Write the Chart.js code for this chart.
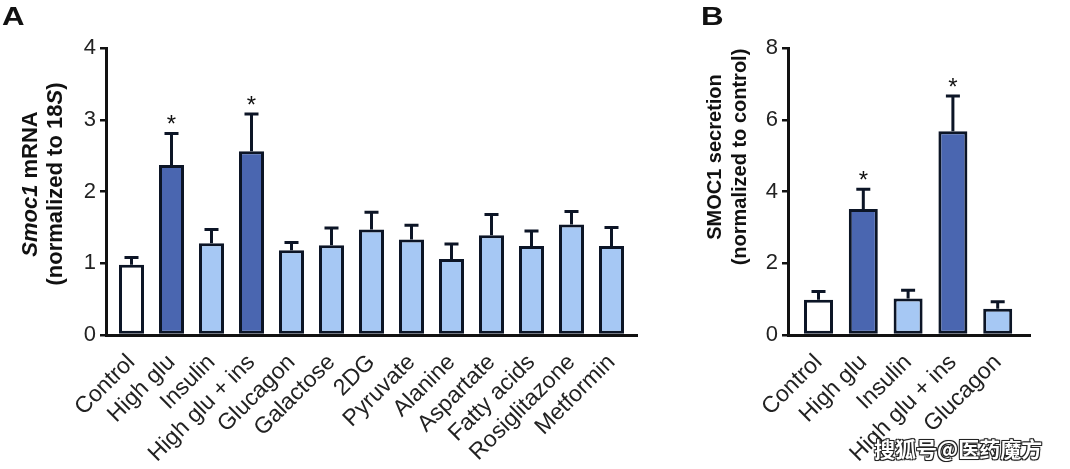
<!DOCTYPE html>
<html>
<head>
<meta charset="utf-8">
<script src="https://cdn.jsdelivr.net/npm/chart.js@4.4.0/dist/chart.umd.min.js"></script>
<style>
  body { margin: 0; background: #fff; width: 1070px; height: 469px; overflow: hidden; position: relative; font-family: 'Liberation Sans', Arial, sans-serif; }
  canvas { position: absolute; top: 0; }
  #chartA { left: 0; }
  #chartB { left: 680px; }
  .letter { position: absolute; font-weight: bold; font-size: 25px; line-height: 25px; color: #111; transform: scaleX(1.25); transform-origin: left top; }
  .ytitle { position: absolute; font-weight: bold; color: #111; white-space: nowrap; text-align: center;
            transform: translate(-50%, -50%) rotate(-90deg); }
  .mark { position: absolute; left: 874px; top: 433px; font-family: 'Noto Sans CJK SC', sans-serif; font-size: 21px;
          font-weight: bold; color: #fff;
          text-shadow: -1px -1px 0 #222, 1px -1px 0 #222, -1px 1px 0 #222, 1px 1px 0 #222, 0 0 2px #000; }
</style>
</head>
<body>
<canvas id="chartA" width="680" height="469"></canvas>
<canvas id="chartB" width="390" height="469"></canvas>
<div class="letter" style="left:2px; top:4px;">A</div>
<div class="letter" style="left:701px; top:4px;">B</div>
<div class="ytitle" style="left:42px; top:184px; font-size:22px; line-height:25px;"><i>Smoc1</i> mRNA<br>(normalized to 18<i>S</i>)</div>
<div class="ytitle" style="left:727px; top:157px; font-size:20px; line-height:25px;">SMOC1 secretion<br>(normalized to control)</div>
<div class="mark">搜狐号@医药魔方</div>
<script>
// Panel A: Smoc1 mRNA
var labelsA = ['Control', 'High glu', 'Insulin', 'High glu + ins', 'Glucagon', 'Galactose', '2DG',
               'Pyruvate', 'Alanine', 'Aspartate', 'Fatty acids', 'Rosiglitazone', 'Metformin'];
var valuesA = [0.98, 2.37, 1.28, 2.56, 1.18, 1.25, 1.47, 1.33, 1.06, 1.39, 1.24, 1.54, 1.24];
var semA    = [0.10, 0.44, 0.19, 0.52, 0.11, 0.24, 0.24, 0.20, 0.21, 0.29, 0.21, 0.18, 0.26];
var groupA  = ['control', 'glucose', 'other', 'glucose', 'other', 'other', 'other',
               'other', 'other', 'other', 'other', 'other', 'other'];
var sigA    = [false, true, false, true, false, false, false, false, false, false, false, false, false];
var ticksA  = [0, 1, 2, 3, 4];

// Panel B: SMOC1 secretion
var labelsB = ['Control', 'High glu', 'Insulin', 'High glu + ins', 'Glucagon'];
var valuesB = [0.98, 3.51, 1.02, 5.68, 0.73];
var semB    = [0.23, 0.55, 0.23, 0.98, 0.20];
var groupB  = ['control', 'glucose', 'other', 'glucose', 'other'];
var sigB    = [false, true, false, true, false];
var ticksB  = [0, 2, 4, 6, 8];

var fills = { control: '#ffffff', glucose: '#4a66b0', other: '#a6c8f4' };
var ink = '#0c1526';

Chart.defaults.font.family = "'Liberation Sans', Arial, sans-serif";
Chart.defaults.color = '#222';

// draws the upward error bar and the significance star for each bar
var errorBars = {
    id: 'errorBars',
    afterDatasetsDraw: function(chart, args, opts) {
        var ctx = chart.ctx;
        var y = chart.scales.y;
        var meta = chart.getDatasetMeta(0);
        var ds = chart.data.datasets[0];
        ctx.save();
        ctx.strokeStyle = ink;
        ctx.fillStyle = '#111';
        ctx.lineWidth = 3;
        ctx.font = "24px 'Liberation Sans', Arial, sans-serif";
        ctx.textAlign = 'center';
        ctx.textBaseline = 'alphabetic';
        meta.data.forEach(function(bar, i) {
            var top = y.getPixelForValue(ds.data[i].y + opts.sem[i]);
            ctx.beginPath();
            ctx.moveTo(bar.x, bar.y);
            ctx.lineTo(bar.x, top);
            ctx.moveTo(bar.x - 7, top);
            ctx.lineTo(bar.x + 7, top);
            ctx.stroke();
            if (opts.sig[i]) ctx.fillText('*', bar.x, top - 1);
        });
        ctx.restore();
    }
};

function makeChart(id, labels, values, sem, group, sig, yTicks, xMin, xMax, barPct, yWidth, padRight) {
    return new Chart(document.getElementById(id), {
        type: 'bar',
        data: {
            datasets: [{
                data: values.map(function(v, i) { return { x: i, y: v }; }),
                backgroundColor: group.map(function(g) { return fills[g]; }),
                borderColor: ink,
                borderWidth: 3,
                borderSkipped: false,
                barPercentage: barPct,
                categoryPercentage: 1
            }]
        },
        options: {
            responsive: false,
            animation: false,
            devicePixelRatio: 1,
            layout: { padding: { top: 48, right: padRight, bottom: 0, left: 0 } },
            plugins: {
                legend: { display: false },
                tooltip: { enabled: false },
                errorBars: { sem: sem, sig: sig }
            },
            scales: {
                x: {
                    type: 'linear',
                    offset: false,
                    min: xMin,
                    max: xMax,
                    grid: { display: false, offset: false },
                    border: { display: true, width: 3, color: '#111' },
                    afterBuildTicks: function(s) { s.ticks = labels.map(function(l, i) { return { value: i }; }); },
                    afterFit: function(s) { s.height = 134; },
                    ticks: {
                        autoSkip: false,
                        minRotation: 45,
                        maxRotation: 45,
                        padding: 6,
                        font: { size: 23 },
                        color: '#222',
                        callback: function(v) { return labels[v]; }
                    }
                },
                y: {
                    min: yTicks[0],
                    max: yTicks[yTicks.length - 1],
                    afterBuildTicks: function(s) { s.ticks = yTicks.map(function(t) { return { value: t }; }); },
                    afterFit: function(s) { s.width = yWidth; },
                    grid: { drawOnChartArea: false, tickLength: 6, lineWidth: 2.5, color: '#111' },
                    border: { display: true, width: 3, color: '#111' },
                    ticks: { padding: 4, font: { size: 22 }, color: '#222' }
                }
            }
        },
        plugins: [errorBars]
    });
}

var chartA = makeChart('chartA', labelsA, valuesA, semA, groupA, sigA, ticksA, -0.6375, 12.6375, 0.625, 106, 43);
var chartB = makeChart('chartB', labelsB, valuesB, semB, groupB, sigB, ticksB, -0.681, 4.721, 0.647, 108, 40);
</script>
</body>
</html>
